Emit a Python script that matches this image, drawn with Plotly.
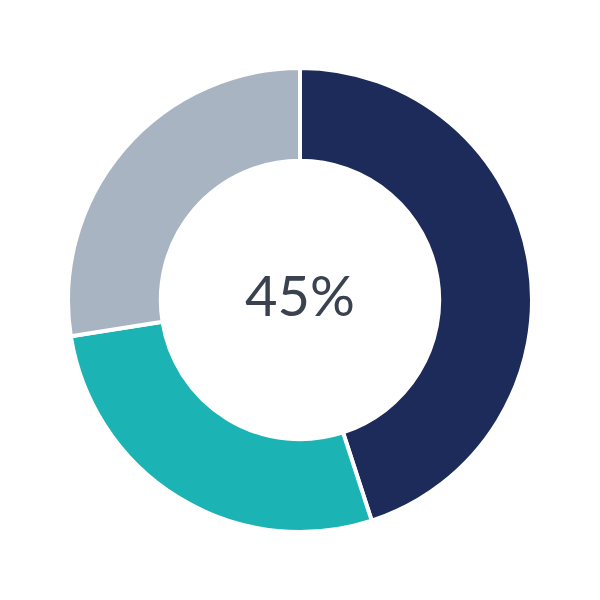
import plotly.graph_objects as go

labels = ["A", "B", "C"]
values = [45, 27.5, 27.5]
colors = ["#1c2b5a", "#1bb3b4", "#a9b4c2"]
center_text = "45%"

fig = go.Figure(go.Pie(
    labels=labels,
    values=values,
    hole=0.6,
    sort=False,
    direction="clockwise",
    rotation=0,
    marker=dict(colors=colors, line=dict(color="#ffffff", width=4)),
    textinfo="none",
    hoverinfo="none",
    showlegend=False,
))

fig.add_annotation(
    text=center_text, x=0.5, y=0.5, xref="paper", yref="paper",
    showarrow=False, yshift=6,
    font=dict(family="Lato", size=56, color="#3a4250"),
)

fig.update_layout(
    width=584, height=584,
    margin=dict(l=60, r=60, t=60, b=60),
    paper_bgcolor="#ffffff", plot_bgcolor="#ffffff",
)

fig.write_html("out.html")
